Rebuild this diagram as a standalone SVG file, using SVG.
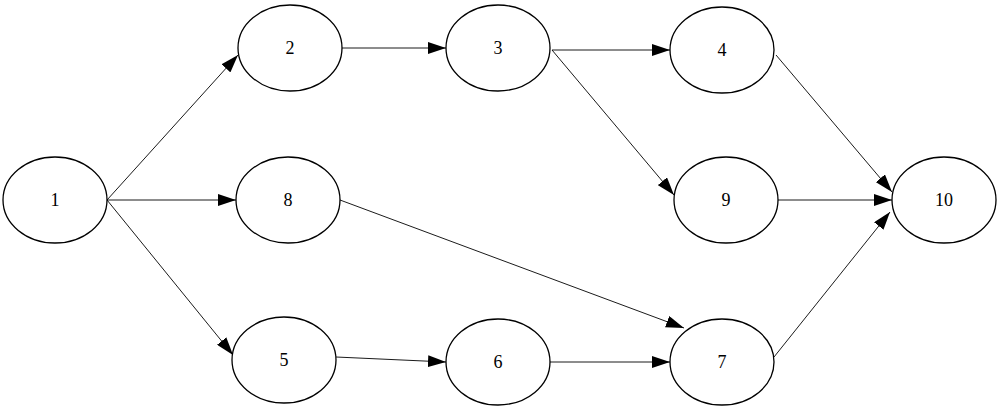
<svg xmlns="http://www.w3.org/2000/svg" width="1000" height="412" viewBox="0 0 1000 412">
<style>
.n ellipse{fill:#fff;stroke:#000;stroke-width:1.3}
.n text{font-family:"Liberation Serif",serif;font-size:18px;text-anchor:middle;dominant-baseline:central}
.e line{stroke:#000;stroke-width:0.9;marker-end:url(#a)}
</style>
<defs><marker id="a" markerUnits="userSpaceOnUse" markerWidth="18" markerHeight="12" refX="18" refY="6" orient="auto"><path d="M0,0 L18,6 L0,12 Z" fill="#000"/></marker></defs>
<rect width="1000" height="412" fill="#fff"/>
<g class="e">
<line x1="107" y1="200" x2="238" y2="55"/>
<line x1="107" y1="200" x2="236" y2="200"/>
<line x1="107" y1="200" x2="233" y2="355"/>
<line x1="342" y1="48" x2="446" y2="48"/>
<line x1="552" y1="50" x2="670" y2="50"/>
<line x1="552" y1="50" x2="674" y2="195"/>
<line x1="340" y1="200" x2="684" y2="328"/>
<line x1="336" y1="357" x2="446" y2="362"/>
<line x1="550" y1="362" x2="670" y2="362"/>
<line x1="776" y1="55" x2="892" y2="192"/>
<line x1="778" y1="200" x2="892" y2="200"/>
<line x1="774" y1="357" x2="890" y2="212"/>
</g>
<g id="n1" class="n"><ellipse cx="55" cy="200" rx="52" ry="43"/><text x="55" y="200">1</text></g>
<g id="n2" class="n"><ellipse cx="290" cy="48" rx="52" ry="43"/><text x="290" y="48">2</text></g>
<g id="n3" class="n"><ellipse cx="498" cy="48" rx="52" ry="43"/><text x="498" y="48">3</text></g>
<g id="n4" class="n"><ellipse cx="722" cy="50" rx="52" ry="43"/><text x="722" y="50">4</text></g>
<g id="n8" class="n"><ellipse cx="288" cy="200" rx="52" ry="43"/><text x="288" y="200">8</text></g>
<g id="n9" class="n"><ellipse cx="726" cy="200" rx="52" ry="43"/><text x="726" y="200">9</text></g>
<g id="n10" class="n"><ellipse cx="944" cy="200" rx="52" ry="43"/><text x="944" y="200">10</text></g>
<g id="n5" class="n"><ellipse cx="284" cy="360" rx="52" ry="43"/><text x="284" y="360">5</text></g>
<g id="n6" class="n"><ellipse cx="498" cy="362" rx="52" ry="43"/><text x="498" y="362">6</text></g>
<g id="n7" class="n"><ellipse cx="722" cy="362" rx="52" ry="43"/><text x="722" y="362">7</text></g>
</svg>
